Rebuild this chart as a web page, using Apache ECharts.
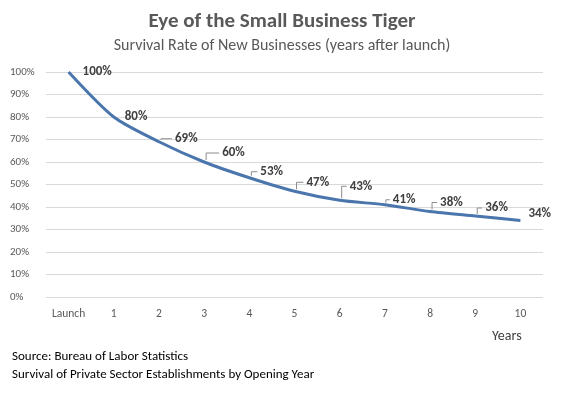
<!DOCTYPE html>
<html><head><meta charset="utf-8">
<script src="https://cdn.jsdelivr.net/npm/echarts@6/dist/echarts.min.js"></script>
<style>html,body{margin:0;padding:0;background:#fff}#c{width:564px;height:393px}</style>
</head><body><div id="c"></div>
<script>
const categories = ['Launch','1','2','3','4','5','6','7','8','9','10'];
const survival = [100, 80, 69, 60, 53, 47, 43, 41, 38, 36, 34];
const yTicks = [0,10,20,30,40,50,60,70,80,90,100];

// label placement (pixel offsets from each point), style only
const labelOffsets = [[14,0],[11,0],[16,-3],[18,-9],[11,-6],[12,-9],[10,-14],[8,-5],[10,-9],[10,-8],[8,-7]];
const hasLeader = [false,false,true,true,true,true,true,true,true,true,false];

const chart = echarts.init(document.getElementById('c'));
const font = 'Calibri, Carlito, "Liberation Sans", "Open Sans", sans-serif';
const t = (o) => Object.assign({ fontFamily: font, fontWeight: 'normal', color: '#595959', fontSize: 12 }, o);

const lineData = survival.map((v, i) => ({
  value: v,
  label: { offset: [labelOffsets[i][0] - 1, labelOffsets[i][1]] }
}));
const leaderData = survival.map((v, i) => [i, v]);

chart.setOption({
  animation: false,
  textStyle: { fontFamily: font },
  title: [
    { text: 'Eye of the Small Business Tiger', left: 'center', top: 11, padding: 0,
      textStyle: t({ fontSize: 21, fontWeight: 'bold' }) },
    { text: 'Survival Rate of New Businesses (years after launch)', left: 'center', top: 38, padding: 0,
      textStyle: t({ fontSize: 16 }) },
    { text: 'Years', left: 492, top: 329, padding: 0,
      textStyle: t({ fontSize: 14, color: '#404040' }) },
    { text: 'Source: Bureau of Labor Statistics', left: 12, top: 350, padding: 0,
      textStyle: t({ fontSize: 13, color: '#000' }) },
    { text: 'Survival of Private Sector Establishments by Opening Year', left: 12, top: 368, padding: 0,
      textStyle: t({ fontSize: 13, color: '#000' }) }
  ],
  grid: { left: 46, right: 21, top: 72, bottom: 96 },
  xAxis: {
    type: 'category', data: categories, boundaryGap: true,
    axisLine: { show: false }, axisTick: { show: false },
    axisLabel: { color: '#595959', fontSize: 11.5, margin: 11, fontFamily: font }
  },
  yAxis: {
    type: 'value', min: yTicks[0], max: yTicks[yTicks.length-1], interval: 10,
    axisLine: { show: false }, axisTick: { show: false },
    splitLine: { lineStyle: { color: '#d9d9d9', width: 1 } },
    axisLabel: { color: '#595959', fontSize: 11, align: 'left', margin: 36,
      formatter: v => v + '%', fontFamily: font }
  },
  series: [{
    type: 'line', data: lineData, smooth: 0.25, showSymbol: true, symbol: 'circle', symbolSize: 2,
    itemStyle: { color: 'rgba(0,0,0,0)', borderWidth: 0 },
    emphasis: { disabled: true },
    lineStyle: { color: '#4a76ad', width: 3 },
    z: 3,
    label: { show: true, position: 'right', distance: 0, formatter: p => p.value + '%',
      color: '#404040', fontSize: 13, fontWeight: 'bold', fontFamily: font, opacity: 1 }
  }, {
    type: 'custom', data: leaderData, silent: true, z: 2,
    renderItem: (params, api) => {
      const i = params.dataIndex;
      if (!hasLeader[i]) return null;
      const p = api.coord([api.value(0), api.value(1)]);
      const lx = p[0] + labelOffsets[i][0];
      const ly = p[1] + labelOffsets[i][1];
      const vx = Math.min(p[0] + 2, lx - 7);
      return {
        type: 'polyline',
        shape: { points: [[vx, p[1] - 2], [vx, ly], [lx - 3, ly]] },
        style: { stroke: '#8c8c8c', lineWidth: 1, fill: null }
      };
    }
  }]
});
</script></body></html>
